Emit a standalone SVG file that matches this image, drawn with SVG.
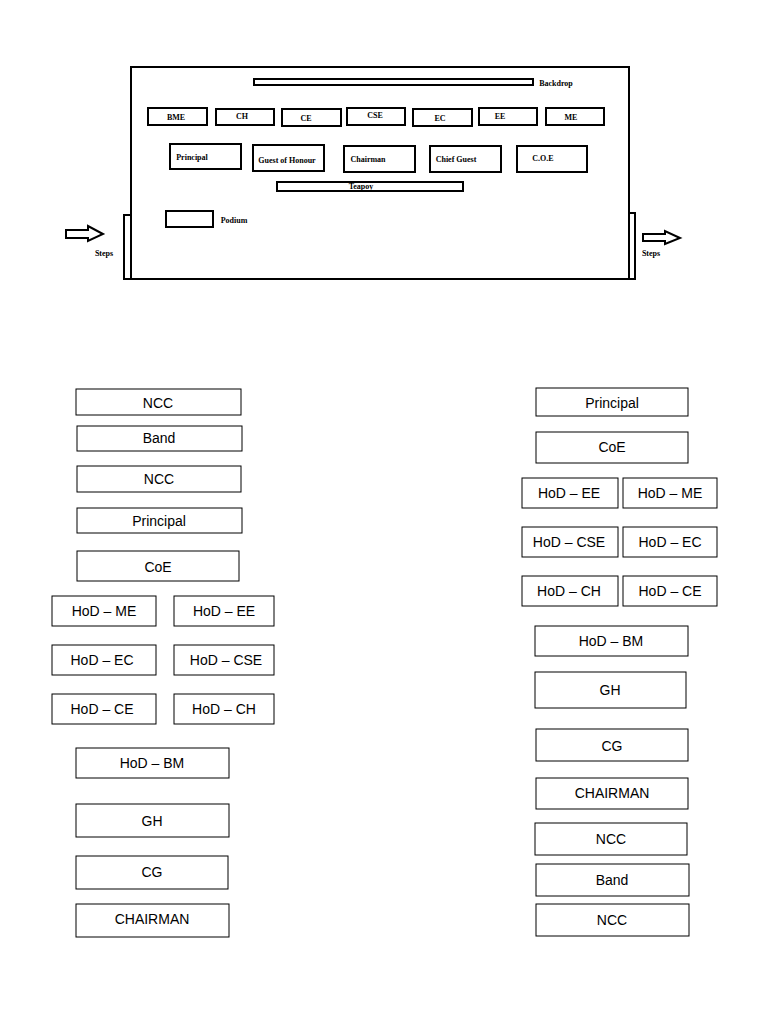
<svg xmlns="http://www.w3.org/2000/svg" width="768" height="1024" viewBox="0 0 768 1024">
<style>
.s{fill:#fff;stroke:#000;stroke-width:2}
.t{font-family:"Liberation Serif",serif;font-size:8px;font-weight:bold;text-anchor:middle}
.b{fill:#fff;stroke:#000;stroke-width:1}
.l{font-family:"Liberation Sans",Arial,sans-serif;font-size:14px;text-anchor:middle}
</style>
<rect width="768" height="1024" fill="#fff"/>
<g id="stage">
<rect class="s" x="131" y="67" width="498" height="212"/>
<rect class="s" x="124" y="215" width="7" height="64"/>
<rect class="s" x="629" y="213" width="6" height="66"/>
<rect class="s" x="254" y="79" width="279" height="6"/>
<text class="t" x="556" y="86">Backdrop</text>
<rect class="s" x="148" y="108" width="59" height="17"/><text class="t" x="176" y="120">BME</text>
<rect class="s" x="216" y="109" width="58" height="16"/><text class="t" x="242" y="119">CH</text>
<rect class="s" x="282" y="109" width="59" height="17"/><text class="t" x="306" y="121">CE</text>
<rect class="s" x="347" y="108" width="58" height="17"/><text class="t" x="375" y="118">CSE</text>
<rect class="s" x="413" y="109" width="59" height="17"/><text class="t" x="440" y="121">EC</text>
<rect class="s" x="479" y="108" width="58" height="17"/><text class="t" x="500" y="119">EE</text>
<rect class="s" x="546" y="108" width="58" height="17"/><text class="t" x="571" y="120">ME</text>
<rect class="s" x="170" y="144" width="71" height="25"/><text class="t" x="192" y="160">Principal</text>
<rect class="s" x="253" y="145" width="71" height="26"/><text class="t" x="287" y="163">Guest of Honour</text>
<rect class="s" x="344" y="146" width="71" height="26"/><text class="t" x="368" y="162">Chairman</text>
<rect class="s" x="430" y="146" width="71" height="26"/><text class="t" x="456" y="162">Chief Guest</text>
<rect class="s" x="517" y="146" width="70" height="26"/><text class="t" x="543" y="161">C.O.E</text>
<rect class="s" x="277" y="182" width="186" height="9"/><text class="t" x="361" y="189">Teapoy</text>
<rect class="s" x="166" y="211" width="47" height="16"/><text class="t" x="234" y="223">Podium</text>
<polygon points="66,230 88,230 88,226 103,234 88,241 88,238 66,238" fill="#fff" stroke="#000" stroke-width="2"/>
<polygon points="643,234 665,234 665,231 680,238 665,244 665,241 643,241" fill="#fff" stroke="#000" stroke-width="2"/>
<text class="t" x="104" y="256">Steps</text>
<text class="t" x="651" y="256">Steps</text>
</g>
<g id="left">
<rect class="b" x="76" y="389" width="165" height="26"/><text class="l" x="158" y="408">NCC</text>
<rect class="b" x="77" y="426" width="165" height="25"/><text class="l" x="159" y="443">Band</text>
<rect class="b" x="77" y="466" width="164" height="26"/><text class="l" x="159" y="484">NCC</text>
<rect class="b" x="77" y="508" width="165" height="25"/><text class="l" x="159" y="526">Principal</text>
<rect class="b" x="77" y="551" width="162" height="30"/><text class="l" x="158" y="572">CoE</text>
<rect class="b" x="52" y="596" width="104" height="30"/><text class="l" x="104" y="616">HoD – ME</text>
<rect class="b" x="174" y="596" width="100" height="30"/><text class="l" x="224" y="616">HoD – EE</text>
<rect class="b" x="52" y="645" width="104" height="30"/><text class="l" x="102" y="665">HoD – EC</text>
<rect class="b" x="174" y="645" width="100" height="30"/><text class="l" x="226" y="665">HoD – CSE</text>
<rect class="b" x="52" y="694" width="104" height="30"/><text class="l" x="102" y="714">HoD – CE</text>
<rect class="b" x="174" y="694" width="100" height="30"/><text class="l" x="224" y="714">HoD – CH</text>
<rect class="b" x="76" y="748" width="153" height="30"/><text class="l" x="152" y="768">HoD – BM</text>
<rect class="b" x="76" y="804" width="153" height="33"/><text class="l" x="152" y="826">GH</text>
<rect class="b" x="76" y="856" width="152" height="33"/><text class="l" x="152" y="877">CG</text>
<rect class="b" x="76" y="904" width="153" height="33"/><text class="l" x="152" y="924">CHAIRMAN</text>
</g>
<g id="right">
<rect class="b" x="536" y="388" width="152" height="28"/><text class="l" x="612" y="408">Principal</text>
<rect class="b" x="536" y="432" width="152" height="31"/><text class="l" x="612" y="452">CoE</text>
<rect class="b" x="522" y="478" width="96" height="30"/><text class="l" x="569" y="498">HoD – EE</text>
<rect class="b" x="623" y="478" width="94" height="30"/><text class="l" x="670" y="498">HoD – ME</text>
<rect class="b" x="522" y="527" width="96" height="30"/><text class="l" x="569" y="547">HoD – CSE</text>
<rect class="b" x="623" y="527" width="94" height="30"/><text class="l" x="670" y="547">HoD – EC</text>
<rect class="b" x="522" y="576" width="96" height="30"/><text class="l" x="569" y="596">HoD – CH</text>
<rect class="b" x="623" y="576" width="94" height="30"/><text class="l" x="670" y="596">HoD – CE</text>
<rect class="b" x="535" y="626" width="153" height="30"/><text class="l" x="611" y="646">HoD – BM</text>
<rect class="b" x="535" y="672" width="151" height="36"/><text class="l" x="610" y="695">GH</text>
<rect class="b" x="536" y="729" width="152" height="32"/><text class="l" x="612" y="751">CG</text>
<rect class="b" x="536" y="778" width="152" height="31"/><text class="l" x="612" y="798">CHAIRMAN</text>
<rect class="b" x="535" y="823" width="152" height="32"/><text class="l" x="611" y="844">NCC</text>
<rect class="b" x="536" y="864" width="153" height="32"/><text class="l" x="612" y="885">Band</text>
<rect class="b" x="536" y="904" width="153" height="32"/><text class="l" x="612" y="925">NCC</text>
</g>
</svg>
